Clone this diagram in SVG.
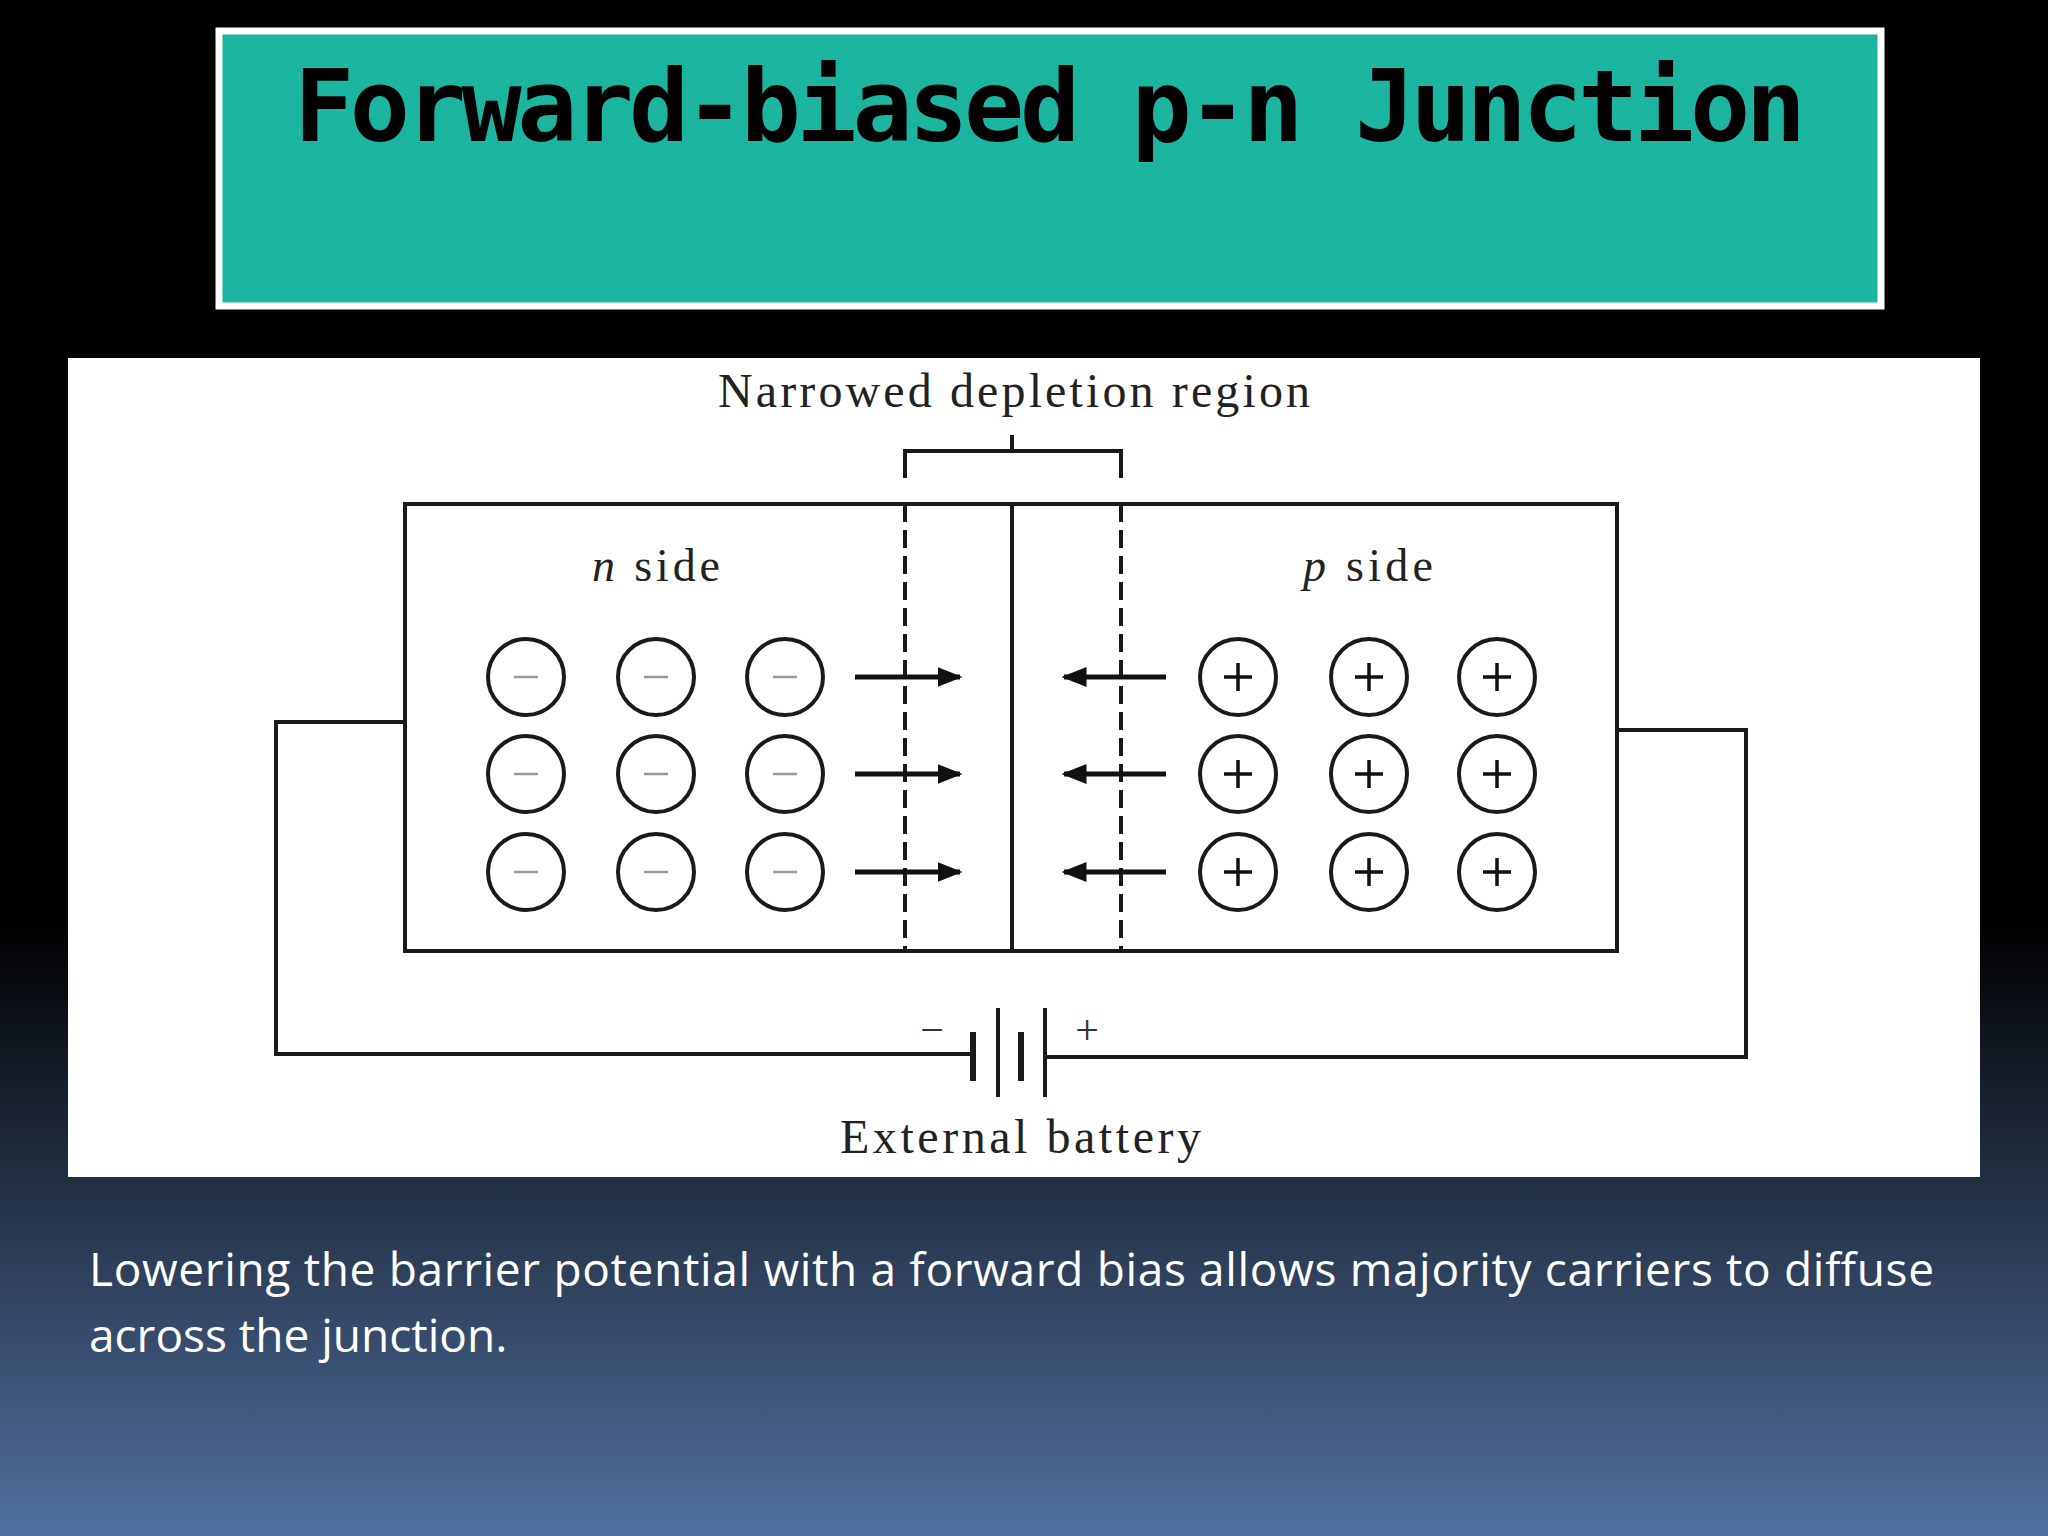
<svg xmlns="http://www.w3.org/2000/svg" width="2048" height="1536" viewBox="0 0 2048 1536">
<defs>
<linearGradient id="bg" x1="0" y1="0" x2="0" y2="1">
<stop offset="0" stop-color="#000"/><stop offset="0.6" stop-color="#000"/><stop offset="1" stop-color="#51709f"/>
</linearGradient>
<marker id="ah" viewBox="0 0 10 10" refX="9" refY="5" markerWidth="5" markerHeight="5" orient="auto"><path d="M0,1 L10,5 L0,9 Z" fill="#111"/></marker>
</defs>
<style>
.ln{stroke:#1a1a1a;stroke-width:4;fill:none}
.ds{stroke:#1a1a1a;stroke-width:4;fill:none;stroke-dasharray:18,8}
.c{stroke:#1a1a1a;stroke-width:4;fill:#fff}
.s{font-family:"Liberation Serif",serif;fill:#222}
.sg{font-family:"Liberation Serif",serif;fill:#333;font-size:42px;text-anchor:middle}
.ar{stroke:#111;stroke-width:5;fill:none;marker-end:url(#ah)}
</style>
<rect width="2048" height="1536" fill="url(#bg)"/>
<g id="title">
<rect x="219" y="31" width="1662" height="275" fill="#1cb5a0" stroke="#fff" stroke-width="7"/>
<text x="294" y="141" font-family="DejaVu Sans Mono,monospace" font-weight="bold" font-size="100" textLength="1512" fill="#000">Forward-biased p-n Junction</text>
</g>
<rect x="68" y="358" width="1912" height="819" fill="#fff"/>
<g id="junction">
<rect x="405" y="504" width="1212" height="447" class="ln"/>
<line x1="905" y1="504" x2="905" y2="951" class="ds"/>
<line x1="1121" y1="504" x2="1121" y2="951" class="ds"/>
<line x1="1012" y1="504" x2="1012" y2="951" class="ln"/>
<path d="M905,478 V451 H1121 V478 M1012,451 V435" class="ln"/>
<text x="718" y="407" class="s" font-size="48" textLength="592">Narrowed depletion region</text>
<text x="592" y="581" class="s" font-size="46" textLength="128"><tspan font-style="italic">n</tspan> side</text>
<text x="1303" y="581" class="s" font-size="46" textLength="130"><tspan font-style="italic">p</tspan> side</text>
</g>
<g id="n-carriers">
<circle cx="526" cy="677" r="38" class="c"/><circle cx="656" cy="677" r="38" class="c"/><circle cx="785" cy="677" r="38" class="c"/>
<circle cx="526" cy="774" r="38" class="c"/><circle cx="656" cy="774" r="38" class="c"/><circle cx="785" cy="774" r="38" class="c"/>
<circle cx="526" cy="872" r="38" class="c"/><circle cx="656" cy="872" r="38" class="c"/><circle cx="785" cy="872" r="38" class="c"/>
<g stroke="#999" stroke-width="2.5">
<line x1="514" y1="677" x2="538" y2="677"/><line x1="644" y1="677" x2="668" y2="677"/><line x1="773" y1="677" x2="797" y2="677"/>
<line x1="514" y1="774" x2="538" y2="774"/><line x1="644" y1="774" x2="668" y2="774"/><line x1="773" y1="774" x2="797" y2="774"/>
<line x1="514" y1="872" x2="538" y2="872"/><line x1="644" y1="872" x2="668" y2="872"/><line x1="773" y1="872" x2="797" y2="872"/>
</g>
</g>
<g id="p-carriers">
<circle cx="1238" cy="677" r="38" class="c"/><circle cx="1369" cy="677" r="38" class="c"/><circle cx="1497" cy="677" r="38" class="c"/>
<circle cx="1238" cy="774" r="38" class="c"/><circle cx="1369" cy="774" r="38" class="c"/><circle cx="1497" cy="774" r="38" class="c"/>
<circle cx="1238" cy="872" r="38" class="c"/><circle cx="1369" cy="872" r="38" class="c"/><circle cx="1497" cy="872" r="38" class="c"/>
<g stroke="#111" stroke-width="3.5">
<path d="M1224,677h28M1238,663v28M1355,677h28M1369,663v28M1483,677h28M1497,663v28"/>
<path d="M1224,774h28M1238,760v28M1355,774h28M1369,760v28M1483,774h28M1497,760v28"/>
<path d="M1224,872h28M1238,858v28M1355,872h28M1369,858v28M1483,872h28M1497,858v28"/>
</g>
</g>
<g id="connectors">
<line x1="855" y1="677" x2="960" y2="677" class="ar"/>
<line x1="855" y1="774" x2="960" y2="774" class="ar"/>
<line x1="855" y1="872" x2="960" y2="872" class="ar"/>
<line x1="1166" y1="677" x2="1064" y2="677" class="ar"/>
<line x1="1166" y1="774" x2="1064" y2="774" class="ar"/>
<line x1="1166" y1="872" x2="1064" y2="872" class="ar"/>
<path d="M405,722 H276 V1054 H973" class="ln"/>
<path d="M1617,730 H1746 V1057 H1045" class="ln"/>
</g>
<g id="battery">
<line x1="973" y1="1032" x2="973" y2="1081" stroke="#1a1a1a" stroke-width="6"/>
<line x1="998" y1="1008" x2="998" y2="1097" stroke="#1a1a1a" stroke-width="4"/>
<line x1="1021" y1="1032" x2="1021" y2="1081" stroke="#1a1a1a" stroke-width="6"/>
<line x1="1045" y1="1008" x2="1045" y2="1097" stroke="#1a1a1a" stroke-width="4"/>
<text x="932" y="1044" class="sg">−</text>
<text x="1087" y="1044" class="sg">+</text>
<text x="840" y="1153" class="s" font-size="48" textLength="361">External battery</text>
</g>
<text x="89" y="1286" font-family="Open Sans,sans-serif" font-size="46" fill="#fff" textLength="1845">Lowering the barrier potential with a forward bias allows majority carriers to diffuse</text>
<text x="89" y="1352" font-family="Open Sans,sans-serif" font-size="46" fill="#fff">across the junction.</text>
</svg>
